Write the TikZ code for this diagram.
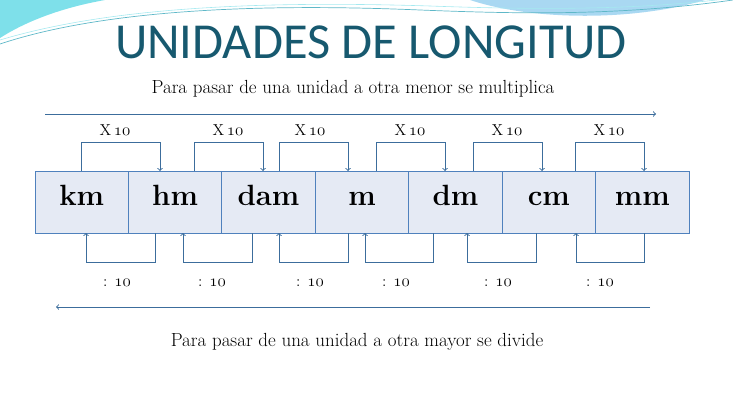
\documentclass[tikz,border=0pt]{standalone}
\usepackage{fontspec}
\newfontfamily\titlefont{Carlito}
\usetikzlibrary{positioning,arrows}
\definecolor{titleblue}{HTML}{17596F}
\definecolor{boxfill}{HTML}{E5EAF4}
\definecolor{boxline}{HTML}{4F81BD}
\definecolor{linkblue}{HTML}{3C6D9C}
\definecolor{waveA}{HTML}{7EE0EA}
\definecolor{waveB}{HTML}{A9D8F2}
\definecolor{waveC}{HTML}{5FB8C8}
\newcommand\oldnum[1]{{\fontencoding{OML}\fontfamily{lmm}\fontseries{m}\fontshape{it}\selectfont #1}}

\begin{document}
\begin{tikzpicture}[x=0.3mm,y=-0.3mm]
\tikzstyle{every node}+=[inner sep=0pt]
\tikzstyle{unit}=[draw=boxline,fill=boxfill,line width=0.8pt,minimum width=28.03mm,minimum height=18.6mm,outer sep=0pt,text height=6.3pt,text depth=0pt,font=\fontsize{25}{25}\selectfont\bfseries]
\tikzstyle{link}=[draw=linkblue,line width=0.8pt,->,>=to]
\tikzstyle{factor}=[font=\fontsize{13.5}{13.5}\selectfont]
\tikzstyle{note}=[font=\fontsize{16.2}{16.2}\selectfont,anchor=base]
\useasboundingbox (0,0) rectangle (733,418);
% waves at the top
\fill[waveA] (0,0) -- (0,38) .. controls (25,22) and (60,8) .. (105,0) -- cycle;
\fill[waveB] (470,0) .. controls (530,20) and (630,22) .. (705,0) -- cycle;
\draw[waveC,line width=0.6pt] (0,44) .. controls (90,14) and (230,2) .. (420,10) .. controls (520,14) and (620,16) .. (733,0);
\draw[waveA!70,line width=0.5pt] (0,40) .. controls (100,10) and (240,0) .. (430,6) .. controls (540,10) and (640,10) .. (733,-2);
% title
\node[font=\titlefont\fontsize{43}{43}\selectfont,text=titleblue,anchor=base] (title) at (371,59) {UNIDADES DE LONGITUD};
\node[note] (menor) at (353,94) {Para pasar de una unidad a otra menor se multiplica};
\node[note] (mayor) at (357,346) {Para pasar de una unidad a otra mayor se divide};
% units
\node[unit] (km) at (81.7,202) {km};
\node[unit,right=0pt of km] (hm) {hm};
\node[unit,right=0pt of hm] (dam) {dam};
\node[unit,right=0pt of dam] (m) {m};
\node[unit,right=0pt of m] (dm) {dm};
\node[unit,right=0pt of dm] (cm) {cm};
\node[unit,right=0pt of cm] (mm) {mm};
% multiply
\foreach \a/\b/\xa/\xb in {km/hm/81/160,hm/dam/194/263,dam/m/279/348,m/dm/376/445,dm/cm/473/542,cm/mm/575/644}
  \draw[link] (\xa,0 |- \a.north) -- ++(0,-29) -| (\xb,0 |- \b.north);
\foreach \x [count=\i] in {115,228,310,410,507,609}
  \node[factor] (mul\i) at (\x,130) {X\,\oldnum{10}};
% divide
\foreach \a/\b/\xa/\xb in {hm/km/155/86,dam/hm/252/183,m/dam/348/279,dm/m/433/365,cm/dm/536/467,mm/cm/644/576}
  \draw[link] (\xa,0 |- \a.south) -- ++(0,29) -| (\xb,0 |- \b.south);
\foreach \x [count=\i] in {117,212,310,396,498,600}
  \node[factor] (div\i) at (\x,283) {: \oldnum{10}};
% long arrows
\coordinate (multL) at (45,114);
\coordinate (multR) at (656,114);
\draw[link] (multL) -- (multR);
\coordinate (divR) at (650,307);
\coordinate (divL) at (56,307);
\draw[link] (divR) -- (divL);
\end{tikzpicture}
\end{document}
